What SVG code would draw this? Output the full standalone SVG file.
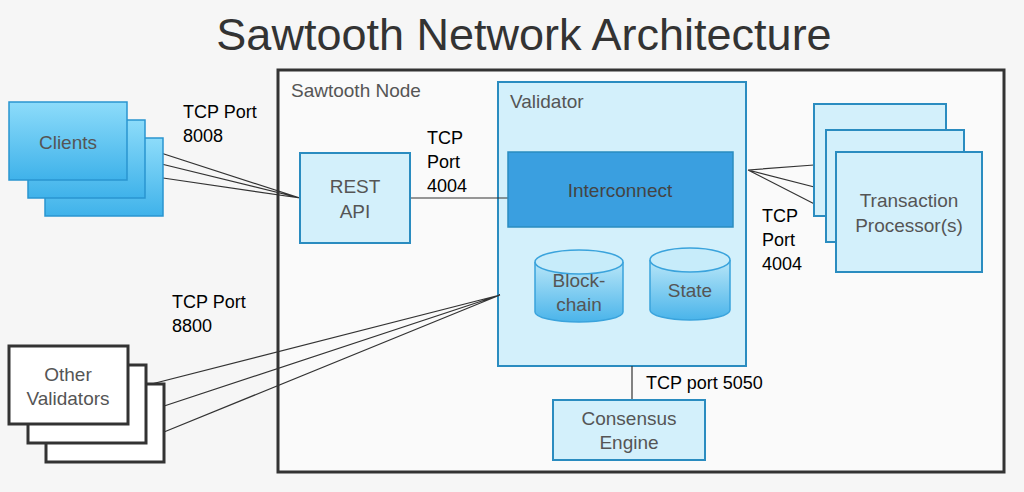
<svg xmlns="http://www.w3.org/2000/svg" width="1024" height="492" viewBox="0 0 1024 492">
<defs>
<linearGradient id="blue" x1="0" y1="0" x2="0" y2="1"><stop offset="0" stop-color="#8ddcfa"/><stop offset="1" stop-color="#3fb2ea"/></linearGradient>
<linearGradient id="cyl" x1="0" y1="0" x2="0" y2="1"><stop offset="0" stop-color="#b8e6f8"/><stop offset="1" stop-color="#4ab4ea"/></linearGradient>
</defs>
<style>
text{font-family:"Liberation Sans",Arial,sans-serif;fill:#000}
.lbl{font-size:18px}
.n{font-size:19px;fill:#555}
.bx{fill:url(#blue);stroke:#2a95d0;stroke-width:1.5}
.lt{fill:#d3f0fb;stroke:#2a8cc0;stroke-width:2}
.wh{fill:#fff;stroke:#333;stroke-width:3}
.ln{stroke:#333;stroke-width:1.2;fill:none}
</style>
<rect width="1024" height="492" fill="#f6f6f6"/>
<text x="524" y="50" font-size="45" text-anchor="middle" style="fill:#333">Sawtooth Network Architecture</text>
<g id="node"><rect x="278" y="70" width="726" height="402" fill="#fafafa" stroke="#333" stroke-width="3"/><text x="291" y="97" class="n" font-size="18">Sawtooth Node</text></g>
<g id="validator"><rect x="498" y="82" width="248" height="284" class="lt"/><text x="510" y="108" class="n" font-size="18">Validator</text></g>
<g id="connectors">
<path class="ln" d="M127 142L300 198M145 160L300 198M163 178L300 198M410 198H508M748 170L814 165M748 170L826 190M748 170L836 215M500 295L128 390M500 295L146 412M500 295L164 432M632 366V400"/>
</g>
<g id="clients">
<rect x="45" y="138" width="118" height="78" class="bx"/>
<rect x="28" y="120" width="117" height="78" class="bx"/>
<rect x="9" y="102" width="118" height="78" class="bx"/>
<text x="68" y="149" class="n" text-anchor="middle">Clients</text>
</g>
<g id="rest"><rect x="300" y="153" width="110" height="90" class="lt"/><text x="355" y="193" class="n" text-anchor="middle">REST</text><text x="355" y="218" class="n" text-anchor="middle">API</text></g>
<g id="interconnect"><rect x="508" y="152" width="225" height="75" fill="#3a9fe0" stroke="#2a8cc0" stroke-width="1.5"/><text x="620" y="197" class="n" text-anchor="middle" style="fill:#444">Interconnect</text></g>
<g id="blockchain"><path d="M535 262V312A44 10 0 0 0 623 312V262" fill="url(#cyl)" stroke="#3aa3dc" stroke-width="1.5"/><ellipse cx="579" cy="262" rx="44" ry="12" fill="#c7ecfa" stroke="#3aa3dc" stroke-width="1.5"/><text x="579" y="287" class="n" text-anchor="middle">Block-</text><text x="579" y="311" class="n" text-anchor="middle">chain</text></g>
<g id="state"><path d="M650 260V310A40 10 0 0 0 730 310V260" fill="url(#cyl)" stroke="#3aa3dc" stroke-width="1.5"/><ellipse cx="690" cy="260" rx="40" ry="12" fill="#c7ecfa" stroke="#3aa3dc" stroke-width="1.5"/><text x="690" y="297" class="n" text-anchor="middle">State</text></g>
<g id="tp">
<rect x="814" y="104" width="132" height="112" class="lt"/>
<rect x="826" y="130" width="138" height="112" class="lt"/>
<rect x="836" y="152" width="146" height="120" class="lt"/>
<text x="909" y="207" class="n" text-anchor="middle">Transaction</text>
<text x="909" y="232" class="n" text-anchor="middle">Processor(s)</text>
</g>
<g id="others">
<rect x="46" y="384" width="118" height="78" class="wh"/>
<rect x="28" y="365" width="118" height="78" class="wh"/>
<rect x="9" y="346" width="119" height="78" class="wh"/>
<text x="68" y="381" class="n" text-anchor="middle">Other</text>
<text x="68" y="405" class="n" text-anchor="middle">Validators</text>
</g>
<g id="consensus"><rect x="553" y="400" width="152" height="60" class="lt"/><text x="629" y="425" class="n" text-anchor="middle">Consensus</text><text x="629" y="449" class="n" text-anchor="middle">Engine</text></g>
<g id="labels" class="lbl">
<text x="183" y="118" class="lbl">TCP Port</text><text x="183" y="142" class="lbl">8008</text>
<text x="427" y="144" class="lbl">TCP</text><text x="427" y="168" class="lbl">Port</text><text x="427" y="192" class="lbl">4004</text>
<text x="762" y="222" class="lbl">TCP</text><text x="762" y="246" class="lbl">Port</text><text x="762" y="270" class="lbl">4004</text>
<text x="172" y="308" class="lbl">TCP Port</text><text x="172" y="332" class="lbl">8800</text>
<text x="646" y="389" class="lbl">TCP port 5050</text>
</g>
</svg>
